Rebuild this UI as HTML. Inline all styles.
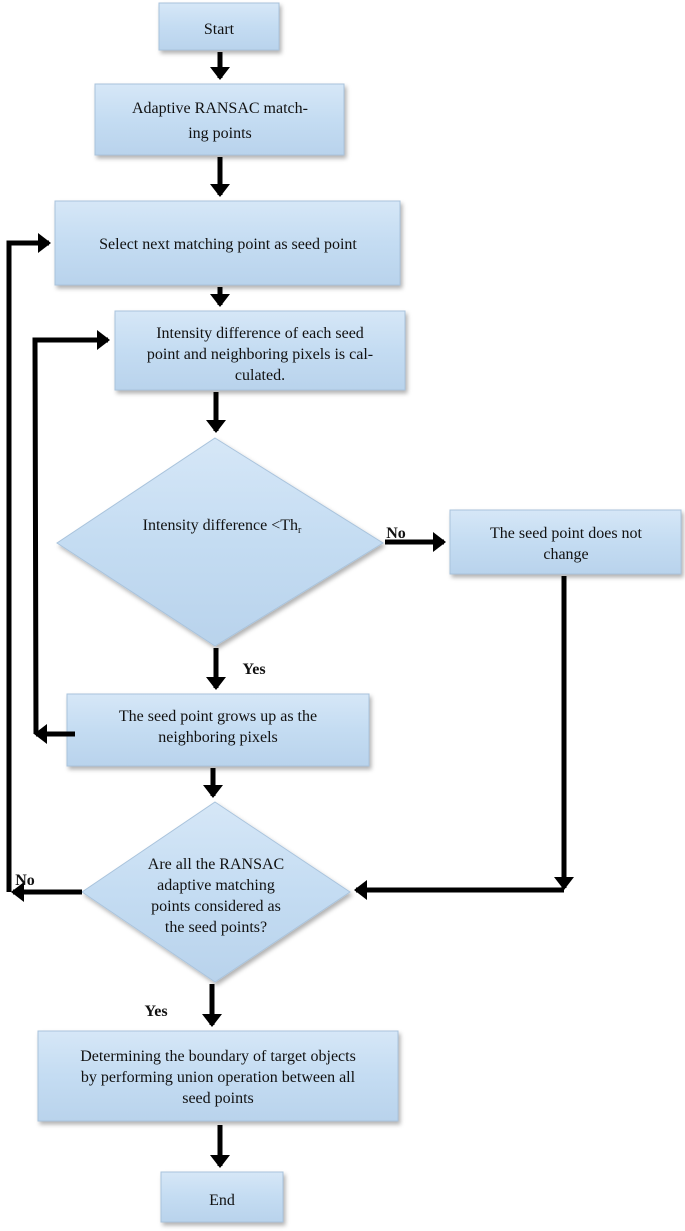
<!DOCTYPE html>
<html><head><meta charset="utf-8"><style>
html,body{margin:0;padding:0;background:#fff;}
svg{display:block;}
text{font-family:"Liberation Serif",serif;font-size:16px;fill:#111;text-anchor:middle;}
.b{font-weight:bold;}
</style></head><body>
<svg width="685" height="1231" viewBox="0 0 685 1231" xmlns="http://www.w3.org/2000/svg">
<defs>
<linearGradient id="g" x1="0" y1="0" x2="0" y2="1">
<stop offset="0" stop-color="#d6e7f7"/><stop offset="0.5" stop-color="#c4dcf2"/><stop offset="1" stop-color="#b9d3ec"/>
</linearGradient>
<filter id="s" x="-10%" y="-10%" width="130%" height="130%"><feDropShadow dx="2" dy="3" stdDeviation="2" flood-color="#000" flood-opacity="0.3"/></filter>
<marker id="a" markerWidth="4" markerHeight="4" refX="2.2" refY="2" orient="auto" markerUnits="strokeWidth"><path d="M0,0 L2.6,2 L0,4 z" fill="#000"/></marker>
</defs>
<g fill="url(#g)" stroke="#a9c3dc" stroke-width="1" filter="url(#s)">
<rect x="159" y="3" width="120" height="47"/>
<rect x="95" y="84" width="249" height="71"/>
<rect x="55" y="201" width="345" height="84"/>
<rect x="115" y="311" width="290" height="79"/>
<polygon points="215,438 383,543 215,646 57,543"/>
<rect x="450" y="510" width="231" height="64"/>
<rect x="67" y="694" width="302" height="72"/>
<polygon points="215,802 350,892 215,982 82,892"/>
<rect x="38" y="1031" width="360" height="90"/>
<rect x="161" y="1172" width="122" height="50"/>
</g>
<g stroke="#000" stroke-width="5" fill="none" marker-end="url(#a)">
<line x1="220" y1="52" x2="220" y2="78"/>
<line x1="220" y1="157" x2="220" y2="195"/>
<line x1="220" y1="287" x2="220" y2="305"/>
<line x1="216" y1="392" x2="216" y2="431"/>
<line x1="385" y1="542" x2="444" y2="542"/>
<line x1="216" y1="648" x2="216" y2="688"/>
<line x1="213" y1="768" x2="213" y2="796"/>
<line x1="212" y1="984" x2="212" y2="1025"/>
<line x1="220" y1="1125" x2="220" y2="1166"/>
<polyline points="75,734 36,734" />
<polyline points="36,734 35,340 108,340"/>
<polyline points="564,576 564,888" />
<polyline points="564,890 356,890"/>
<polyline points="82,892 13,892"/>
<polyline points="9,892 9,243 49,243"/>
</g>
<text x="219" y="34">Start</text>
<text x="220" y="113">Adaptive RANSAC match-</text>
<text x="220" y="138">ing points</text>
<text x="228" y="249">Select  next matching point as seed point</text>
<text x="260" y="338">Intensity difference of each seed</text>
<text x="260" y="359">point and neighboring pixels is cal-</text>
<text x="260" y="380">culated.</text>
<text x="222" y="530">Intensity difference &lt;Th<tspan font-size="10" dy="3">r</tspan></text>
<text x="566" y="538">The seed point does not</text>
<text x="566" y="559">change</text>
<text x="218" y="721">The seed point grows up as the</text>
<text x="218" y="742">neighboring pixels</text>
<text x="216" y="869">Are all the RANSAC</text>
<text x="216" y="890">adaptive matching</text>
<text x="216" y="911">points considered as</text>
<text x="216" y="932">the seed points?</text>
<text x="218" y="1061">Determining the boundary of target objects</text>
<text x="218" y="1082">by performing union operation between all</text>
<text x="218" y="1103">seed points</text>
<text x="222" y="1205">End</text>
<text class="b" x="396" y="538">No</text>
<text class="b" x="254" y="674">Yes</text>
<text class="b" x="25" y="885">No</text>
<text class="b" x="156" y="1016">Yes</text>
</svg>
</body></html>
